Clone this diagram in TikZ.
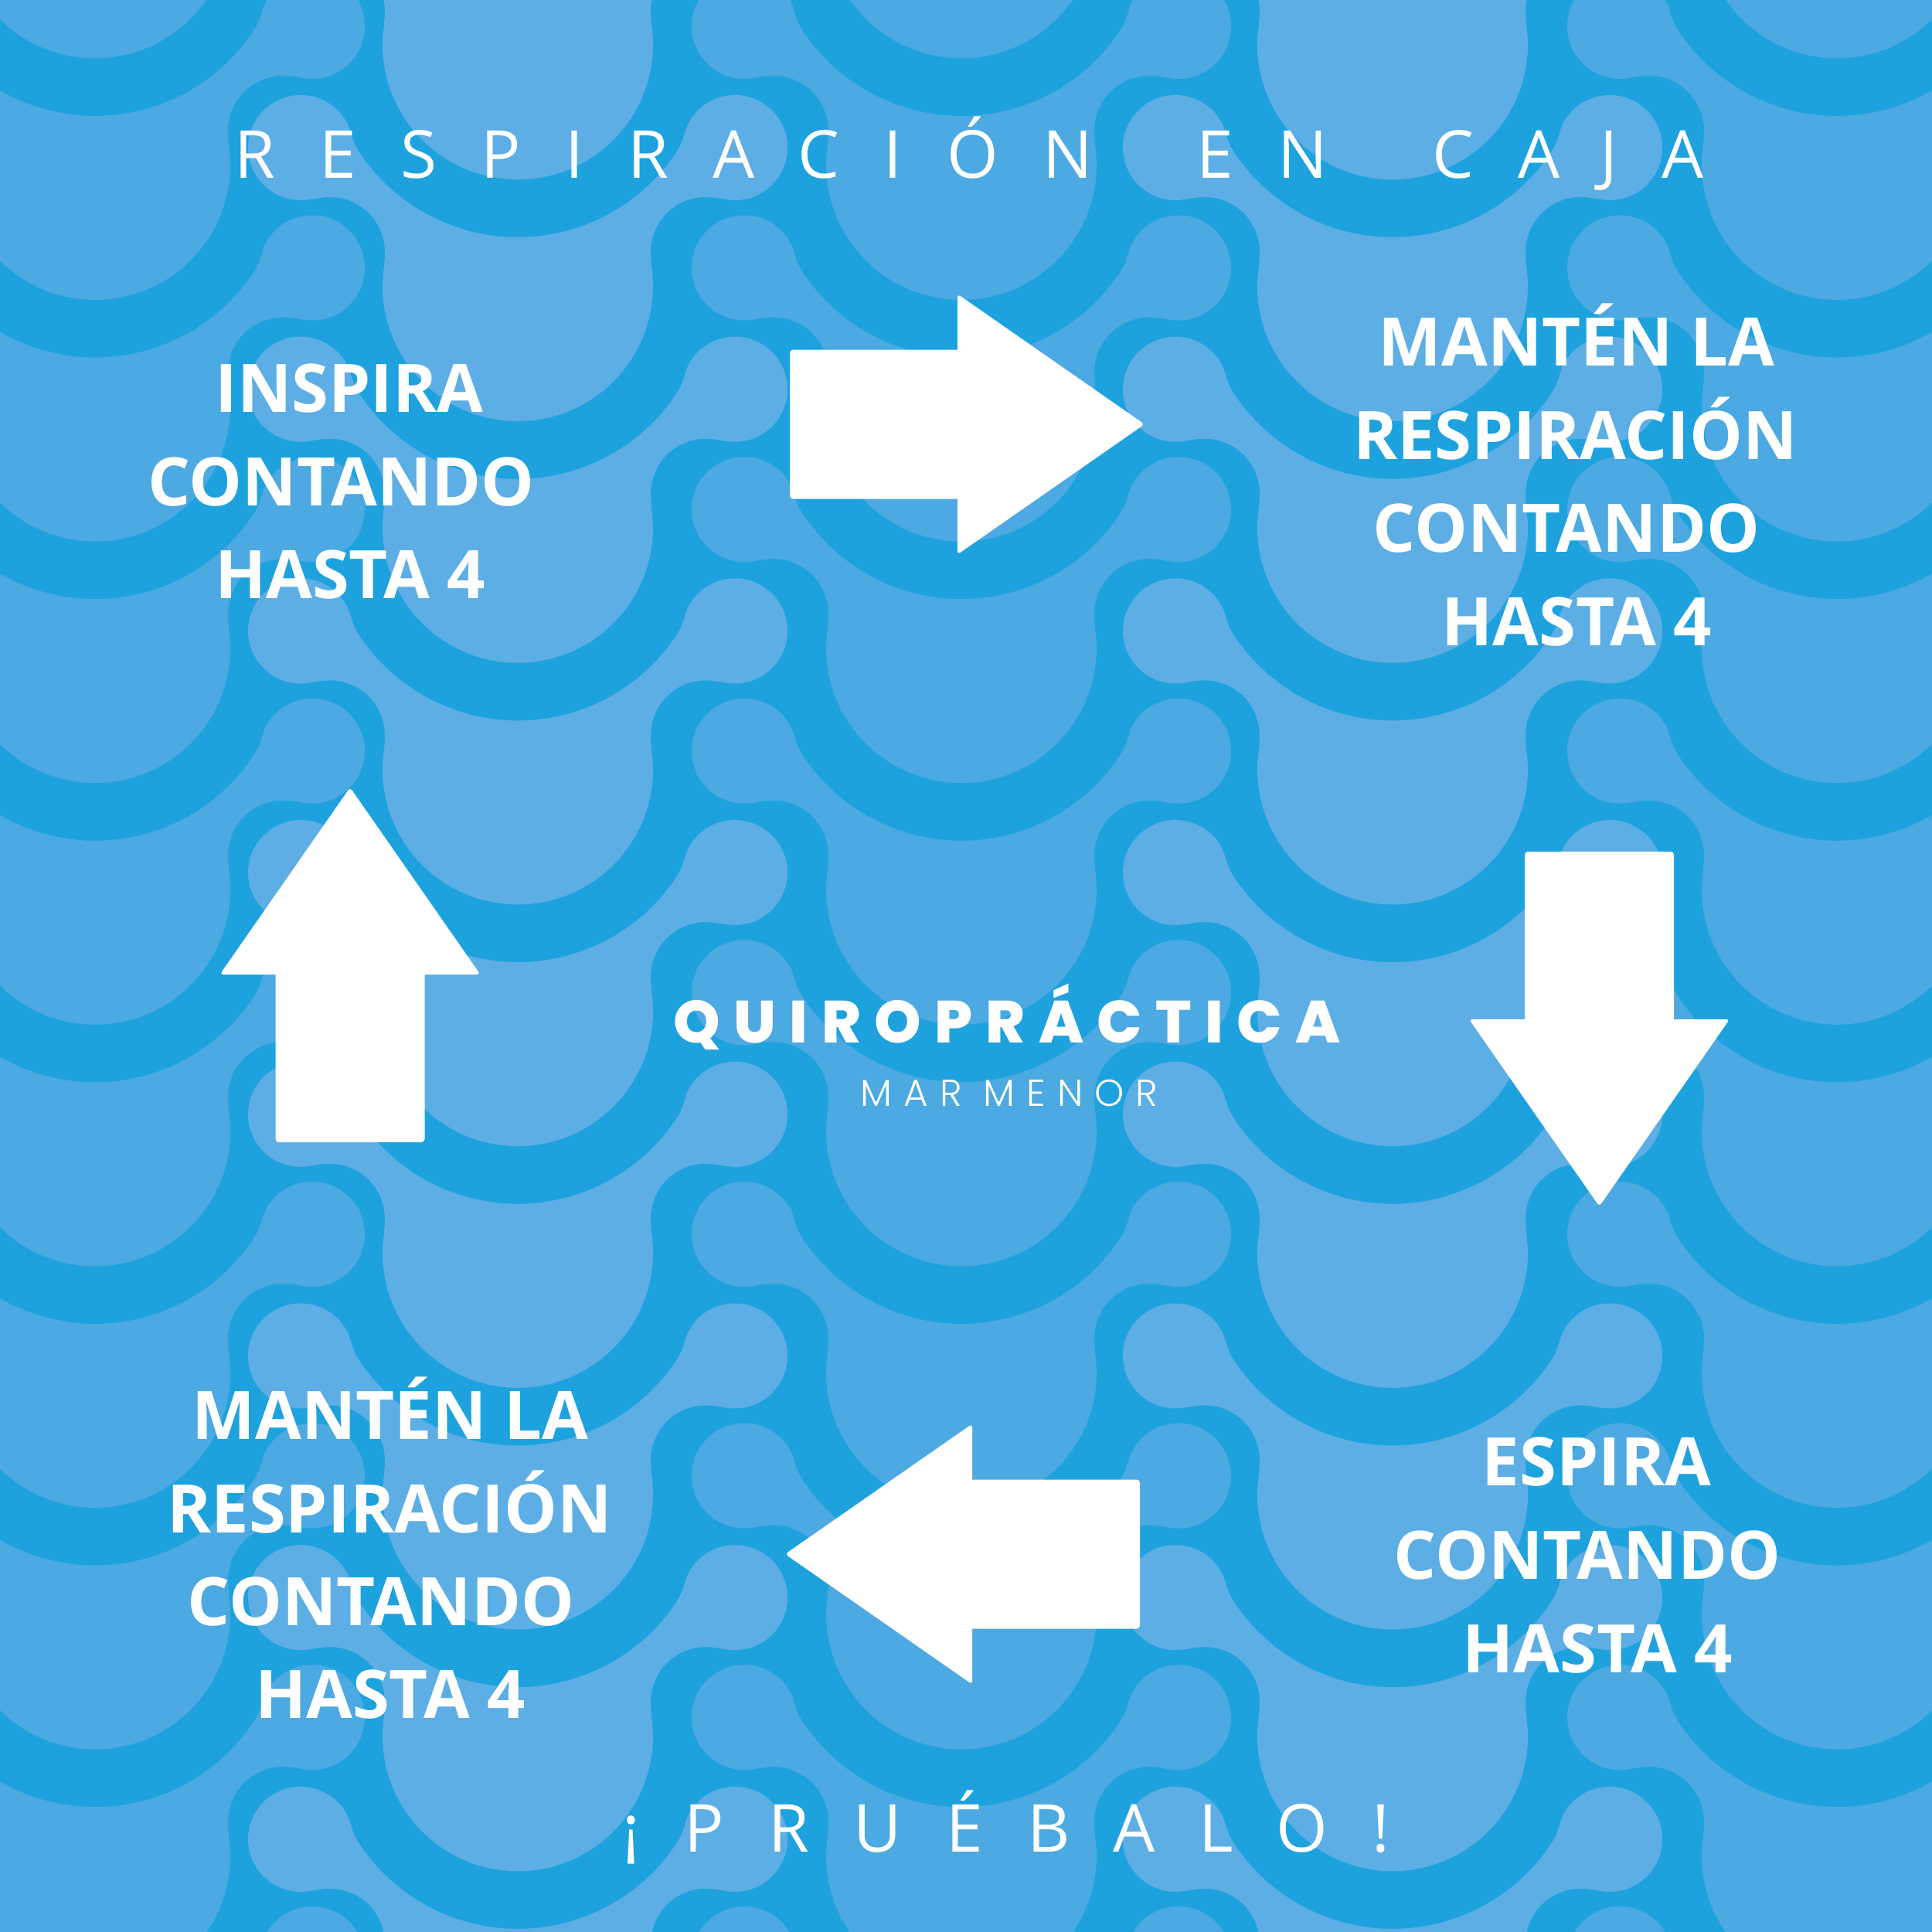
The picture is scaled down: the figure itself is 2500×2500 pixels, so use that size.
\documentclass[tikz,border=0pt]{standalone}
\usepackage{fontspec}
\setmainfont{Open Sans}
\newfontfamily\titlefont[LetterSpace=67]{Open Sans}
\newfontfamily\boldfont{Open Sans Bold}
\newfontfamily\brandfont[LetterSpace=22.6]{Poppins ExtraBold}
\newfontfamily\brandlight[LetterSpace=31]{Poppins Light}

\definecolor{waveband}{HTML}{1EA2DE}
\definecolor{wavedeep}{HTML}{4CA9E1}
\definecolor{wavepale}{HTML}{5DAEE5}

\newcommand{\wavepiece}[3]{
 \fill[#3, shift={(#1,{#2})}] (0,0)
  .. controls (83.6,0) and (161.8,-42.6) .. (207,-113)
  .. controls (214,-124) and (216,-137) .. (220,-146)
  .. controls (231.4,-169.3) and (255,-184) .. (281,-184)
  .. controls (318.5,-184) and (349,-153.5) .. (349,-116)
  .. controls (349,-78.5) and (318.5,-48) .. (281,-48)
  .. controls (268,-48) and (258,-52) .. (243,-52)
  .. controls (205,-52) and (172,-22) .. (172,20)
  .. controls (172,35) and (175,48) .. (175,63)
  .. controls (175,159.6) and (96.6,238) .. (0,238)
  .. controls (-96.6,238) and (-175,159.6) .. (-175,63)
  .. controls (-175,48) and (-172,35) .. (-172,20)
  .. controls (-172,-22) and (-205,-52) .. (-243,-52)
  .. controls (-258,-52) and (-268,-48) .. (-281,-48)
  .. controls (-318.5,-48) and (-349,-78.5) .. (-349,-116)
  .. controls (-349,-153.5) and (-318.5,-184) .. (-281,-184)
  .. controls (-255,-184) and (-231.4,-169.3) .. (-220,-146)
  .. controls (-216,-137) and (-214,-124) .. (-207,-113)
  .. controls (-161.8,-42.6) and (-83.6,0) .. (0,0) -- cycle;
}
\newcommand{\breatharrow}[3]{
 \fill[white, shift={(#1,#2)}, rotate=#3, rounded corners=1.2pt] (3,0) -- (-239,168.5)
  [sharp corners] -- (-239,96.5) [rounded corners=1.2pt] -- (-456,96.5) -- (-456,-96.5)
  [sharp corners] -- (-239,-96.5) [rounded corners=1.2pt] -- (-239,-168.5) -- cycle;
}

\tikzset{
 boldline/.style={anchor=base, inner sep=0pt, text=white, font=\boldfont\fontsize{24.63}{30}\selectfont},
 spacedline/.style={anchor=base, inner sep=0pt, text=white, font=\titlefont\fontsize{24.33}{30}\selectfont},
 brandline/.style={anchor=base, inner sep=0pt, text=white, font=\brandfont\fontsize{21.9}{26}\selectfont},
 brandsub/.style={anchor=base, inner sep=0pt, text=white, font=\brandlight\fontsize{13.8}{16}\selectfont},
}

\begin{document}
\begin{tikzpicture}[x=0.01cm, y=-0.01cm]
 \useasboundingbox (0,0) rectangle (2500,2500);
 \clip (0,0) rectangle (2500,2500);
 \fill[waveband] (0,0) rectangle (2500,2500);
 % background scallops
 \foreach \row in {-1,...,8} {
  \foreach \cx in {-1009,123,1244,2377,3509} {\wavepiece{\cx}{150+312.6*\row}{wavedeep}}
  \foreach \cx in {-462,670,1802,2934} {\wavepiece{\cx}{307+312.7*\row}{wavepale}}
 }
 \breatharrow{1478}{549}{0}
 \breatharrow{2069.5}{1558}{-90}
 \breatharrow{1019}{2011}{180}
 \breatharrow{453}{1022}{90}
 % texts
 \node[spacedline] (title) at (1254,230) {RESPIRACIÓN\hspace{0.55cm} EN\hspace{0.56cm} CA\kern0.52cm J\kern0.57cm A};
 \node[boldline] (inspira) at (452,533) {INSPIRA};
 \node[boldline] (inspiraCount) at (441.5,654) {CONTANDO};
 \node[boldline] (inspiraFour) at (453,774) {HASTA 4};
 \node[boldline] (holdTop) at (2040,473) {MANTÉN LA};
 \node[boldline] (holdTopBreath) at (2038.5,594) {RESPIRACIÓN};
 \node[boldline] (holdTopCount) at (2027,714) {CONTANDO};
 \node[boldline] (holdTopFour) at (2040,835) {HASTA 4};
 \node[boldline] (espira) at (2066,1922) {ESPIRA};
 \node[boldline] (espiraCount) at (2054,2043) {CONTANDO};
 \node[boldline] (espiraFour) at (2067,2164) {HASTA 4};
 \node[boldline] (holdLow) at (505,1862) {MANTÉN LA};
 \node[boldline] (holdLowBreath) at (504,1983) {RESPIRACIÓN};
 \node[boldline] (holdLowCount) at (493,2103) {CONTANDO};
 \node[boldline] (holdLowFour) at (505,2223) {HASTA 4};
 \node[brandline] (brand) at (1303,1349) {QUIROPRÁCTICA};
 \node[brandsub] (brandSub) at (1306,1431) {MAR MENOR};
 \node[spacedline] (tryIt) at (1302,2396) {¡PRUÉBALO!};
\end{tikzpicture}
\end{document}
